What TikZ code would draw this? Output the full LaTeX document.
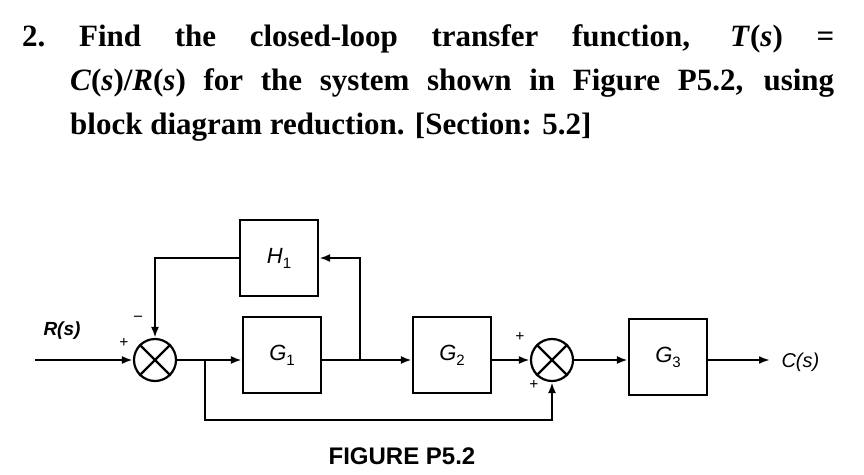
\documentclass[tikz,border=0pt]{standalone}
\usepackage{fontspec}
\setmainfont{Liberation Serif}
\newfontfamily\labfont{Liberation Sans}
\usetikzlibrary{arrows.meta}
\newcommand{\blab}[2]{\textit{#1}{\fontsize{15}{15}\selectfont\raisebox{-5pt}{#2}}}
\tikzset{blk/.style={draw,line width=2.2pt,minimum width=78pt,minimum height=76pt,inner sep=0pt,font=\labfont\fontsize{22}{22}\selectfont},
  sumj/.style={draw,circle,line width=2.2pt,minimum size=42pt,inner sep=0pt},
  sig/.style={line width=2.2pt,-{Latex[length=11pt,width=8pt]}},
  wire/.style={line width=2.2pt},
  sgn/.style={font=\bfseries\fontsize{16}{16}\selectfont,inner sep=1pt}}
\begin{document}
\begin{tikzpicture}[x=1pt,y=-1pt]
  \useasboundingbox (0,0) rectangle (864,474);
  % problem text
  \node[anchor=north west,inner sep=0pt,text width=812pt,align=justify,
        font=\bfseries\fontsize{31}{44}\selectfont] (txt) at (22,24)
   {\hangindent=48pt\hangafter=1
    2.~Find the closed-loop transfer function, \textit{T}(\textit{s})~=\linebreak
    \textit{C}(\textit{s})/\textit{R}(\textit{s}) for the system shown in Figure P5.2, using\linebreak
    block diagram reduction. [Section: 5.2]\par};

  % blocks
  \node[blk] (H1) at (279,258) {\blab{H}{1}};
  \node[blk] (G1) at (282,355) {\blab{G}{1}};
  \node[blk] (G2) at (452,355) {\blab{G}{2}};
  \node[blk] (G3) at (668,357) {\blab{G}{3}};
  \node[sumj] (S1) at (155,360) {};
  \node[sumj] (S2) at (552,360) {};
  \foreach \s in {S1,S2}
    \draw[wire] (\s.north west) -- (\s.south east) (\s.north east) -- (\s.south west);

  \coordinate (in) at (35,360);
  \coordinate (out) at (770,360);
  \coordinate (b1) at (205,360);
  \coordinate (b2) at (360,360);

  % signal paths
  \draw[sig] (in) -- (S1.west);
  \draw[sig] (S1.east) -- (G1.west|-b1);
  \draw[sig] (G1.east|-b2) -- (G2.west|-b2);
  \draw[sig] (G2.east|-S2) -- (S2.west);
  \draw[sig] (S2.east) -- (G3.west|-S2);
  \draw[sig] (G3.east|-out) -- (out);
  % feedback through H1
  \draw[sig] (b2) -- (b2|-H1) -- (H1.east);
  \draw[sig] (H1.west) -- (S1|-H1) -- (S1.north);
  % feed-forward below
  \draw[sig] (b1) -- (205,420) -- (S2|-0,420) -- (S2.south);

  % labels
  \node[font=\labfont\bfseries\itshape\fontsize{19}{19}\selectfont] (Rs) at (62,331) {R(s)};
  \node[font=\labfont\itshape\fontsize{20}{20}\selectfont,anchor=west] (Cs) at (778,362) {C(s)};
  \node[sgn] (p1) at (124,343) {+};
  \node[sgn] (m1) at (138,318) {--};
  \node[sgn] (p2) at (520,337) {+};
  \node[sgn] (p3) at (534,385) {+};
  \node[font=\labfont\bfseries\fontsize{24}{24}\selectfont] (cap) at (402,456) {FIGURE P5.2};
\end{tikzpicture}
\end{document}
